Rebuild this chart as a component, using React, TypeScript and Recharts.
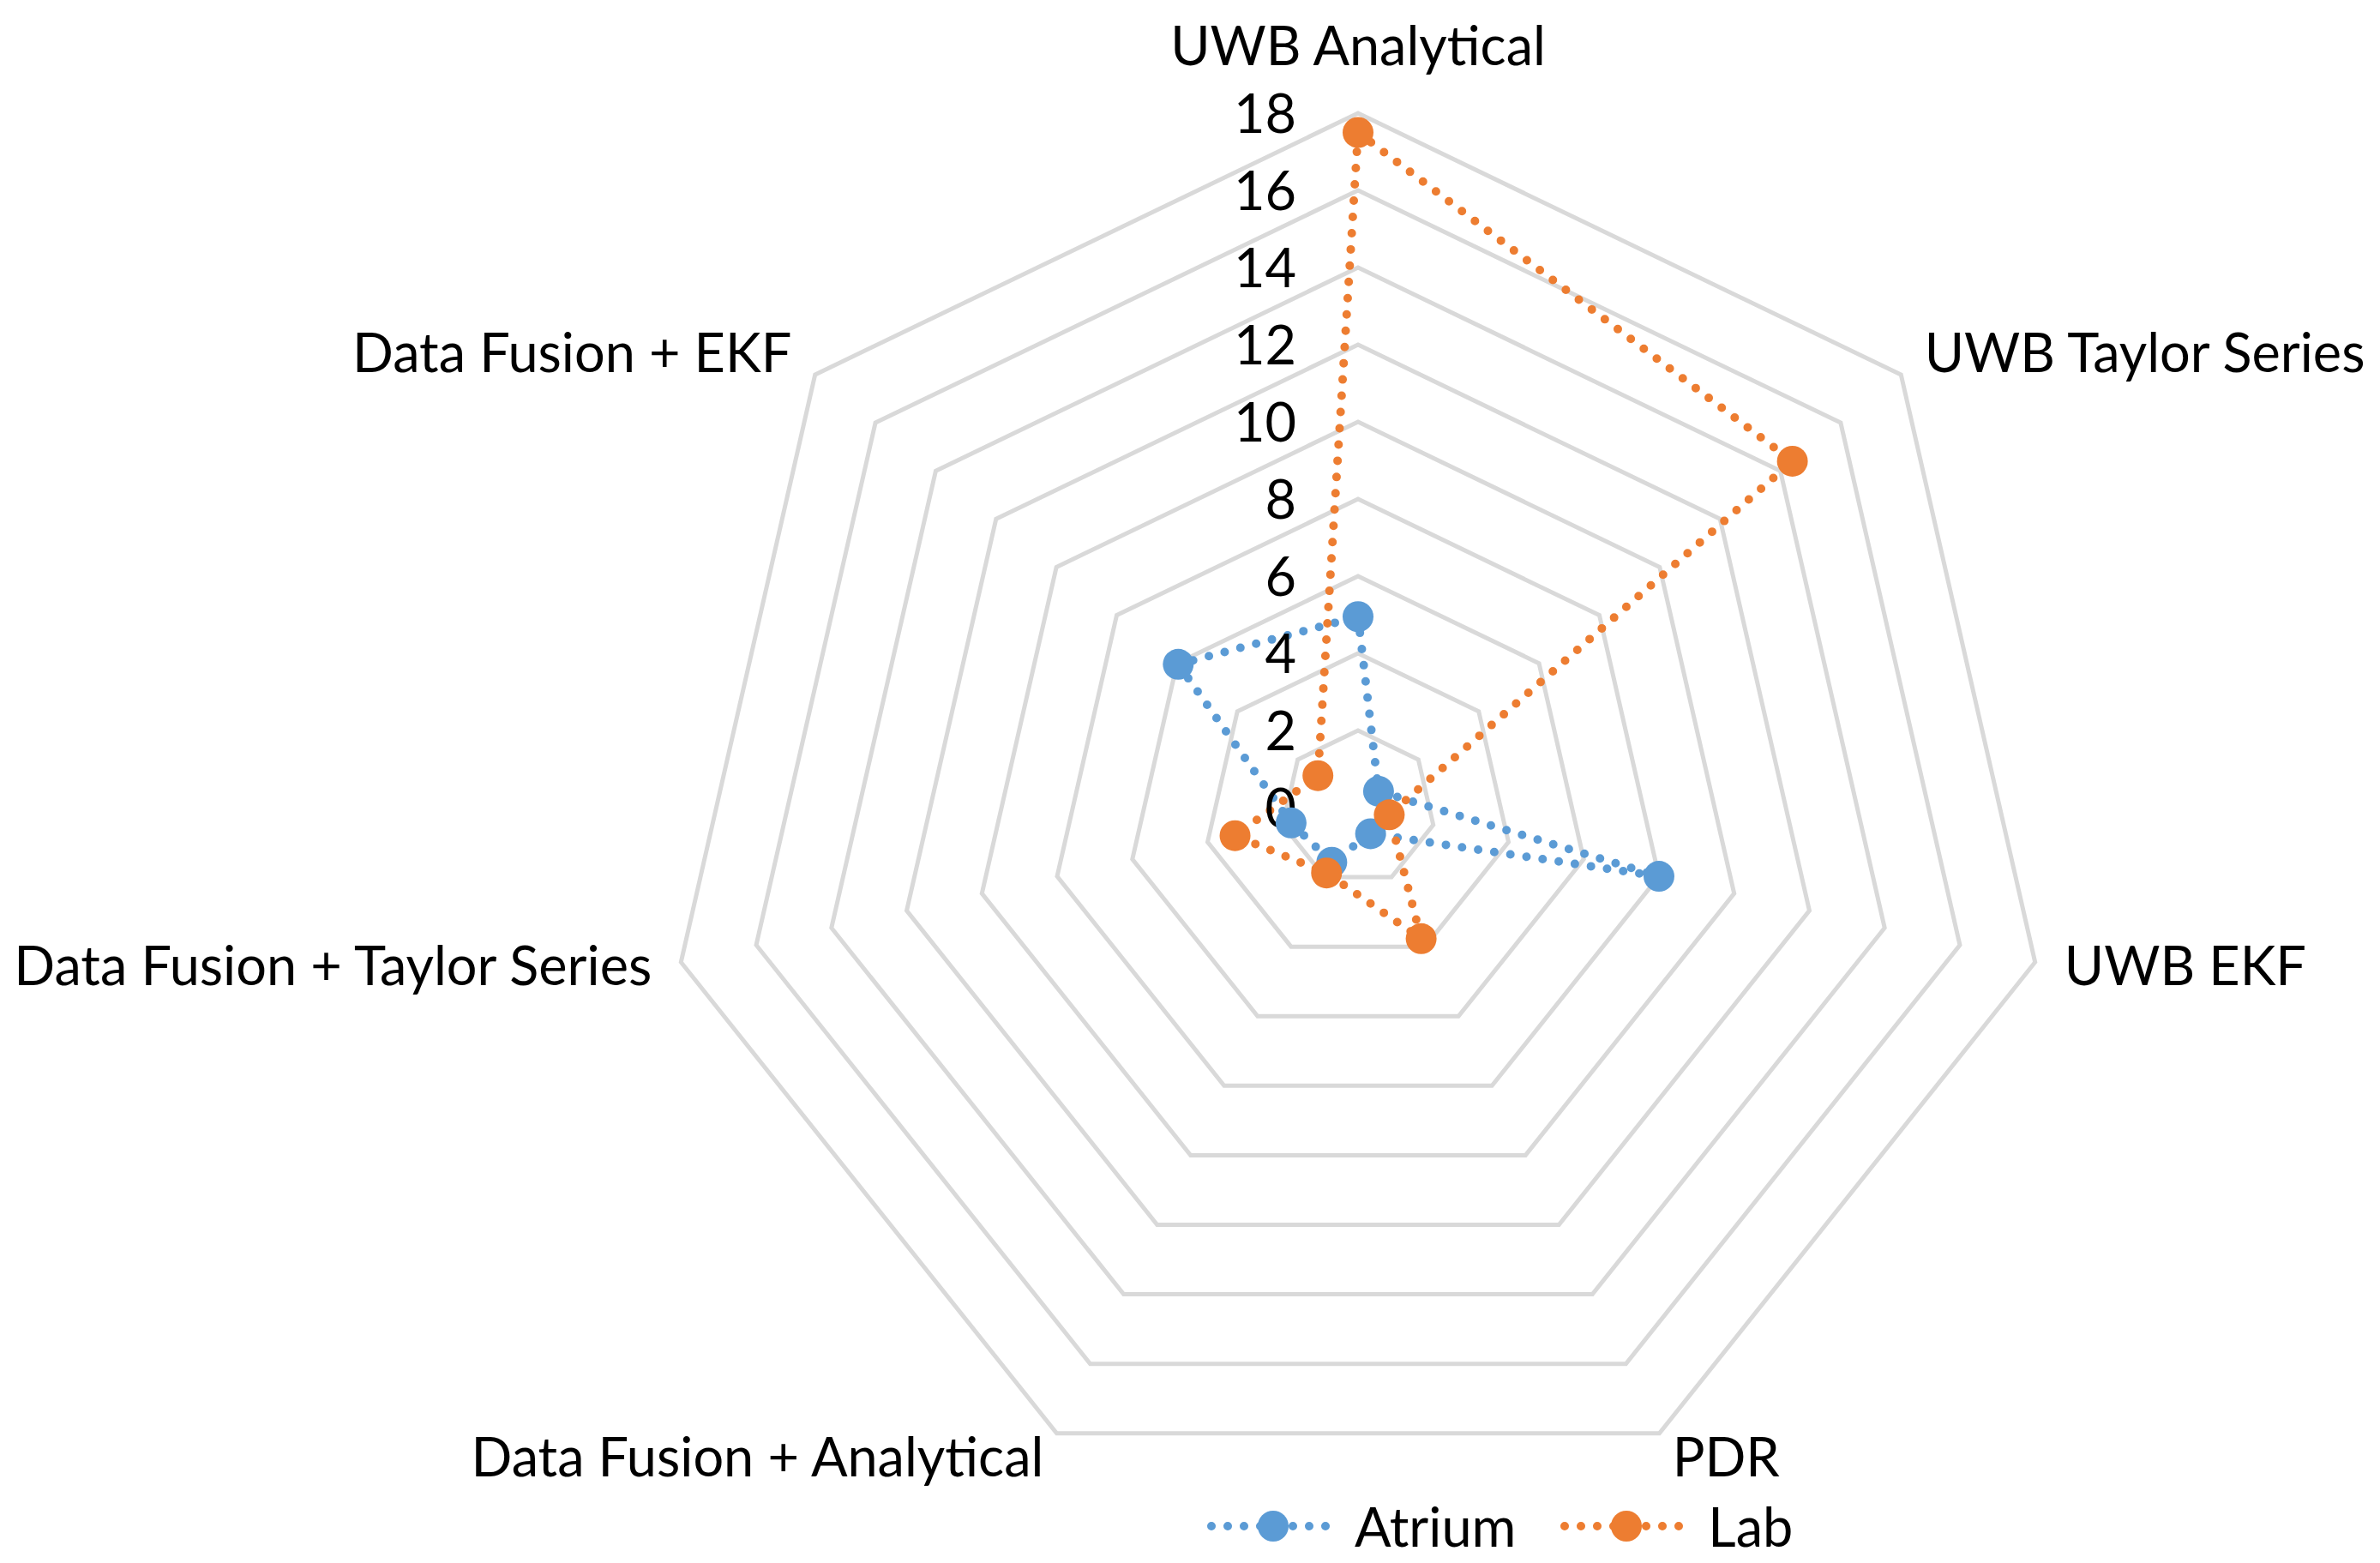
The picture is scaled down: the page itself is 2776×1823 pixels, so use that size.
import React from 'react';
import { RadarChart, Radar, PolarGrid, PolarAngleAxis, PolarRadiusAxis, Legend } from 'recharts';

const categories = [
  'UWB Analytical',
  'UWB Taylor Series',
  'UWB EKF',
  'PDR',
  'Data Fusion + Analytical',
  'Data Fusion + Taylor Series',
  'Data Fusion + EKF',
];
const atrium = [4.95, 0.68, 8.0, 0.75, 1.57, 1.78, 5.96];
const lab = [17.5, 14.4, 0.83, 3.77, 1.88, 3.27, 1.33];
const radiusTicks = [0, 2, 4, 6, 8, 10, 12, 14, 16, 18];

const data = categories.map((name, i) => ({ name, Atrium: atrium[i], Lab: lab[i] }));

const W = 2776;
const H = 1823;
const CX = 1584;
const CY = 942;
const R = 810;
const FONT = 'Lato, "Open Sans", sans-serif';
const FS = 63;
const BLUE = '#5B9BD5';
const ORANGE = '#ED7D31';

const AngleTick = (props: any) => {
  const { payload } = props;
  const ang = (payload.coordinate * Math.PI) / 180;
  const c = Math.cos(ang);
  const s = Math.sin(ang);
  const r = R + 35;
  const anchor: 'start' | 'end' | 'middle' = c > 0.1 ? 'start' : c < -0.1 ? 'end' : 'middle';
  const x = CX + (anchor === 'middle' ? 0 : r * c);
  const y = anchor === 'middle' ? CY - 891 : CY - r * s - 6;
  return (
    <text x={x} y={y} textAnchor={anchor} dominantBaseline="central" fontFamily={FONT} fontSize={FS} fill="#000">
      {payload.value}
    </text>
  );
};

const RadiusTick = (props: any) => {
  const { x, y, payload } = props;
  return (
    <text x={x - 72} y={y - 2} textAnchor="end" dominantBaseline="central" fontFamily={FONT} fontSize={FS} fill="#000">
      {payload.value}
    </text>
  );
};

const makeDot = (color: string) => (props: any) => {
  const { cx, cy, index } = props;
  if (cx == null || cy == null) return <g key={index} />;
  return <circle key={index} cx={cx} cy={cy} r={18} fill={color} stroke="none" />;
};

const LegendContent = (props: any) => {
  const { payload } = props;
  return (
    <div style={{ display: 'flex', alignItems: 'center', fontFamily: FONT, fontSize: FS, color: '#000' }}>
      {(payload || []).map((p: any, i: number) => (
        <div key={i} style={{ display: 'flex', alignItems: 'center', marginRight: i === 0 ? 52 : 0 }}>
          <svg width={150} height={40} style={{ marginRight: 22 }}>
            <line x1={5} y1={20} x2={145} y2={20} stroke={p.color} strokeWidth={10} strokeDasharray="0 19" strokeLinecap="round" />
            <circle cx={77} cy={20} r={18} fill={p.color} />
          </svg>
          <span>{p.value}</span>
        </div>
      ))}
    </div>
  );
};

export default function App() {
  return (
    <div style={{ position: 'absolute', left: 0, top: 0, width: W, height: H, background: '#fff' }}>
      <RadarChart width={W} height={H} data={data} cx={CX} cy={CY} outerRadius={R} margin={{ top: 0, right: 0, bottom: 0, left: 0 }}>
        <PolarGrid gridType="polygon" radialLines={false} stroke="#d9d9d9" strokeWidth={5} />
        <PolarAngleAxis dataKey="name" tick={AngleTick} axisLine={false} tickLine={false} />
        <PolarRadiusAxis angle={90} domain={[0, 18]} ticks={radiusTicks as any} tickCount={10} axisLine={false} tick={RadiusTick} />
        <Radar
          name="Atrium"
          dataKey="Atrium"
          stroke={BLUE}
          fill="none"
          fillOpacity={0}
          strokeWidth={10}
          strokeDasharray="0 19"
          strokeLinecap="round"
          dot={makeDot(BLUE)}
          isAnimationActive={false}
        />
        <Radar
          name="Lab"
          dataKey="Lab"
          stroke={ORANGE}
          fill="none"
          fillOpacity={0}
          strokeWidth={10}
          strokeDasharray="0 19"
          strokeLinecap="round"
          dot={makeDot(ORANGE)}
          isAnimationActive={false}
        />
        <Legend content={LegendContent} wrapperStyle={{ position: 'absolute', left: 1408, top: 1742, width: 'auto' }} />
      </RadarChart>
    </div>
  );
}
